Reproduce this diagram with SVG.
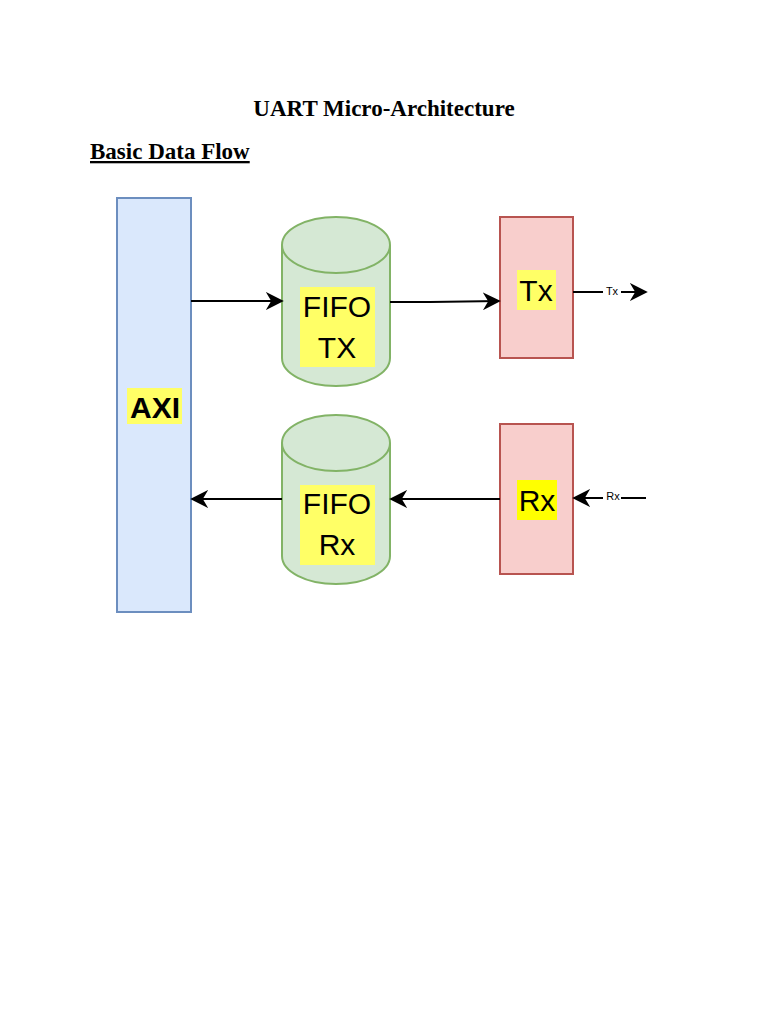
<svg xmlns="http://www.w3.org/2000/svg" width="768" height="1024" viewBox="0 0 768 1024">
<defs>
<style>
.cyl{fill:#d5e8d4;stroke:#82b366;stroke-width:2}
.red{fill:#f8cecc;stroke:#b85450;stroke-width:2}
.lbl{font-family:"Liberation Sans",Arial,sans-serif;font-size:30px;fill:#000;text-anchor:middle}
.hl{fill:#ffff66}
.c{stroke:#000;stroke-width:2;fill:none}
</style>
<marker id="a" viewBox="0 0 10 10" refX="9" refY="5" markerWidth="9" markerHeight="9" markerUnits="userSpaceOnUse" orient="auto"><path d="M0,0 L10,5 L0,10 L3,5 Z" fill="#000"/></marker>
<marker id="b" viewBox="0 0 10 10" refX="9" refY="5" markerWidth="18" markerHeight="18" markerUnits="userSpaceOnUse" orient="auto"><path d="M0,0 L10,5 L0,10 L3,5 Z" fill="#000"/></marker>
</defs>
<rect width="768" height="1024" fill="#fff"/>
<text x="384" y="116" font-family="'Liberation Serif',serif" font-size="23" font-weight="bold" text-anchor="middle">UART Micro-Architecture</text>
<text x="90" y="159" font-family="'Liberation Serif',serif" font-size="23" font-weight="bold" text-decoration="underline">Basic Data Flow</text>
<g id="axi">
<rect x="117" y="198" width="74" height="414" fill="#dae8fc" stroke="#6c8ebf" stroke-width="2"/>
<rect class="hl" x="127" y="388" width="55" height="36" fill="#ffff00"/>
<text x="155" y="418" class="lbl" font-weight="bold" style="fill:#000">AXI</text>
</g>
<g id="fifotx">
<path class="cyl" d="M282,245 A54,28 0 0 1 390,245 L390,358 A54,28 0 0 1 282,358 Z"/>
<path class="cyl" d="M282,245 A54,28 0 0 0 390,245" fill="none"/>
<rect class="hl" x="300" y="287" width="75" height="80"/>
<text x="337" y="317" class="lbl">FIFO</text>
<text x="337" y="358" class="lbl">TX</text>
</g>
<g id="fiforx">
<path class="cyl" d="M282,443 A54,28 0 0 1 390,443 L390,556 A54,28 0 0 1 282,556 Z"/>
<path class="cyl" d="M282,443 A54,28 0 0 0 390,443" fill="none"/>
<rect class="hl" x="300" y="485" width="75" height="80"/>
<text x="337" y="514" class="lbl">FIFO</text>
<text x="337" y="555" class="lbl">Rx</text>
</g>
<g id="tx">
<rect class="red" x="500" y="217" width="73" height="141"/>
<rect class="hl" x="517" y="270" width="39" height="40"/>
<text x="536" y="301" class="lbl">Tx</text>
</g>
<g id="rx">
<rect class="red" x="500" y="424" width="73" height="150"/>
<rect x="517" y="480" width="40" height="40" fill="#ffff00"/>
<text x="537" y="511" class="lbl">Rx</text>
</g>
<g id="connectors">
<path class="c" d="M191,301 H282" marker-end="url(#b)"/>
<path class="c" d="M390,302 H430 L499,301" marker-end="url(#b)"/>
<path class="c" d="M573,292 H646" marker-end="url(#b)"/>
<path class="c" d="M646,498 H574" marker-end="url(#b)" stroke-width="1.5"/>
<path class="c" d="M500,499 H391" marker-end="url(#b)" stroke-width="1.5"/>
<path class="c" d="M282,499 H192" marker-end="url(#b)" stroke-width="1.5"/>
<rect x="603" y="285" width="18" height="12" fill="#fff"/>
<text x="612" y="295" font-family="'Liberation Sans',sans-serif" font-size="11" text-anchor="middle">Tx</text>
<rect x="603" y="491" width="18" height="12" fill="#fff"/>
<text x="613" y="500" font-family="'Liberation Sans',sans-serif" font-size="11" text-anchor="middle">Rx</text>
</g>
</svg>
